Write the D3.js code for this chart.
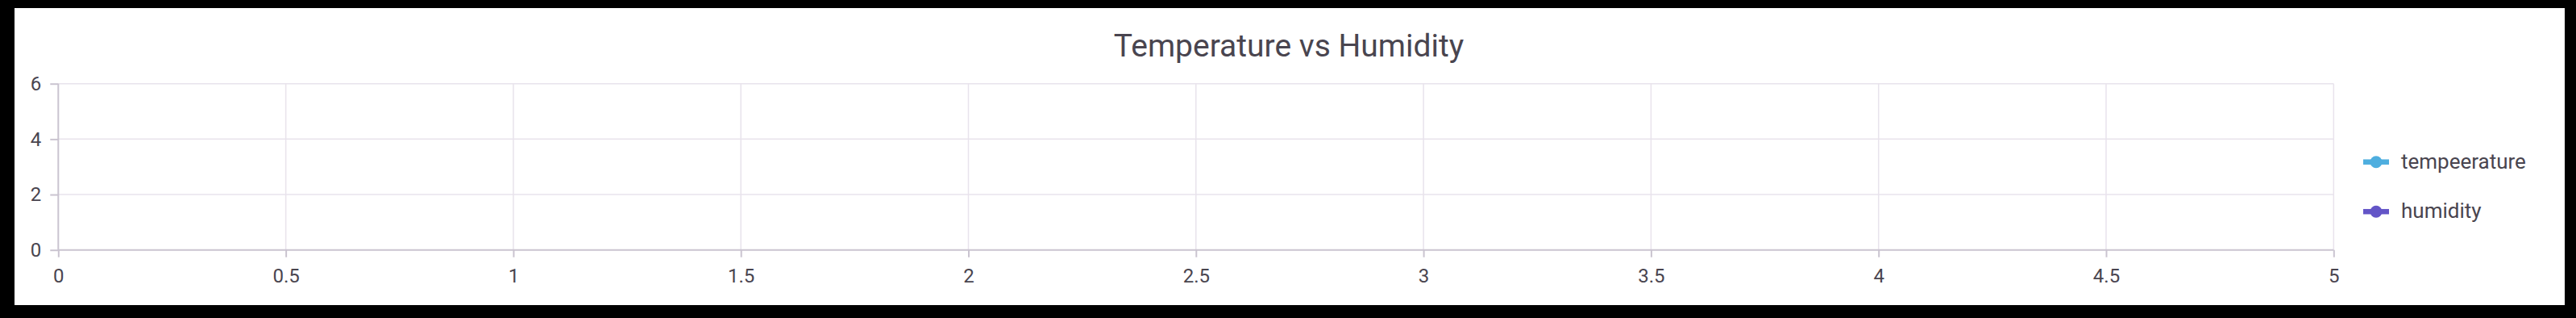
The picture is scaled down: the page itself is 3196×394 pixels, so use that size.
<!DOCTYPE html>
<html>
<head>
<meta charset="utf-8">
<script src="https://cdn.jsdelivr.net/npm/d3@7"></script>
<style>
  html, body { margin: 0; padding: 0; background: #000; }
  svg { display: block; }
  text { font-family: Roboto, "Noto Sans", sans-serif; }
</style>
</head>
<body>
<div id="chart"></div>
<script>
// chart data
var chartTitle = "Temperature vs Humidity";
var seriesNames = ["tempeerature", "humidity"];
var temperature = [];   // no points in the picture
var humidity = [];
var xTicks = [0, 0.5, 1, 1.5, 2, 2.5, 3, 3.5, 4, 4.5, 5];
var yTicks = [0, 2, 4, 6];

var seriesColors = ["#4EAEDF", "#6355C7"];
var textColor = "#49454F";
var gridColor = "#E8E3EC";
var axisColor = "#CAC4D0";

var W = 3196, H = 394;

var svg = d3.select("#chart")
  .append("svg")
  .attr("width", W)
  .attr("height", H);

// white card inside the black frame
svg.append("rect")
  .attr("x", 18).attr("y", 10)
  .attr("width", 3164).attr("height", 368)
  .attr("fill", "#fff");

var x = d3.scaleLinear().domain([0, 5]).range([72.3, 2895.3]);
var y = d3.scaleLinear().domain([0, 6]).range([309.7, 103.7]);

// title
svg.append("text")
  .attr("x", 1599)
  .attr("y", 70)
  .attr("text-anchor", "middle")
  .attr("font-size", 39)
  .attr("fill", textColor)
  .text(chartTitle);

// grid lines
var grid = svg.append("g");
grid.selectAll("line.h")
  .data(yTicks.filter(d => d != 0))
  .enter()
  .append("line")
  .attr("x1", x(0)).attr("x2", x(5))
  .attr("y1", d => y(d)).attr("y2", d => y(d))
  .attr("stroke", gridColor)
  .attr("stroke-width", 1.5);
grid.selectAll("line.v")
  .data(xTicks.filter(d => d != 0))
  .enter()
  .append("line")
  .attr("x1", d => x(d)).attr("x2", d => x(d))
  .attr("y1", y(6)).attr("y2", y(0))
  .attr("stroke", gridColor)
  .attr("stroke-width", 1.5);

// axes
var yAxis = svg.append("g")
  .attr("transform", "translate(" + x(0) + ",0)")
  .call(d3.axisLeft(y).tickValues(yTicks).tickFormat(d3.format("d")).tickSize(10).tickPadding(11));
var xAxis = svg.append("g")
  .attr("transform", "translate(0," + y(0) + ")")
  .call(d3.axisBottom(x).tickValues(xTicks).tickFormat(d => String(d)).tickSize(9).tickPadding(14));

[yAxis, xAxis].forEach(function(a) {
  a.attr("font-size", 24).attr("font-family", null);
  a.select(".domain").attr("stroke", axisColor).attr("stroke-width", 2);
  a.selectAll(".tick line").attr("stroke", axisColor).attr("stroke-width", 2);
  a.selectAll(".tick text")
    .attr("fill", textColor)
    .style("font-size", "24px");
});
yAxis.select(".domain").attr("d", "M0," + y(0) + "V" + y(6));
xAxis.select(".domain").attr("d", "M" + x(0) + ",0H" + x(5));

// series lines (empty)
var line = d3.line().x(d => x(d[0])).y(d => y(d[1]));
[temperature, humidity].forEach(function(s, i) {
  svg.append("path")
    .datum(s)
    .attr("d", line(s) || "")
    .attr("fill", "none")
    .attr("stroke", seriesColors[i])
    .attr("stroke-width", 2);
});

// legend
var legend = svg.append("g")
  .selectAll("g")
  .data(seriesNames)
  .enter()
  .append("g")
  .attr("transform", (d, i) => "translate(2932," + (200.7 + i * 61.5) + ")");
legend.append("line")
  .attr("x1", 0).attr("x2", 32)
  .attr("y1", 0).attr("y2", 0)
  .attr("stroke", (d, i) => seriesColors[i])
  .attr("stroke-width", 6.5);
legend.append("circle")
  .attr("cx", 16).attr("cy", 0).attr("r", 7.5)
  .attr("fill", (d, i) => seriesColors[i]);
legend.append("text")
  .attr("x", 47).attr("y", 8)
  .style("font-size", "26px")
  .attr("fill", textColor)
  .text(d => d);
</script>
</body>
</html>
